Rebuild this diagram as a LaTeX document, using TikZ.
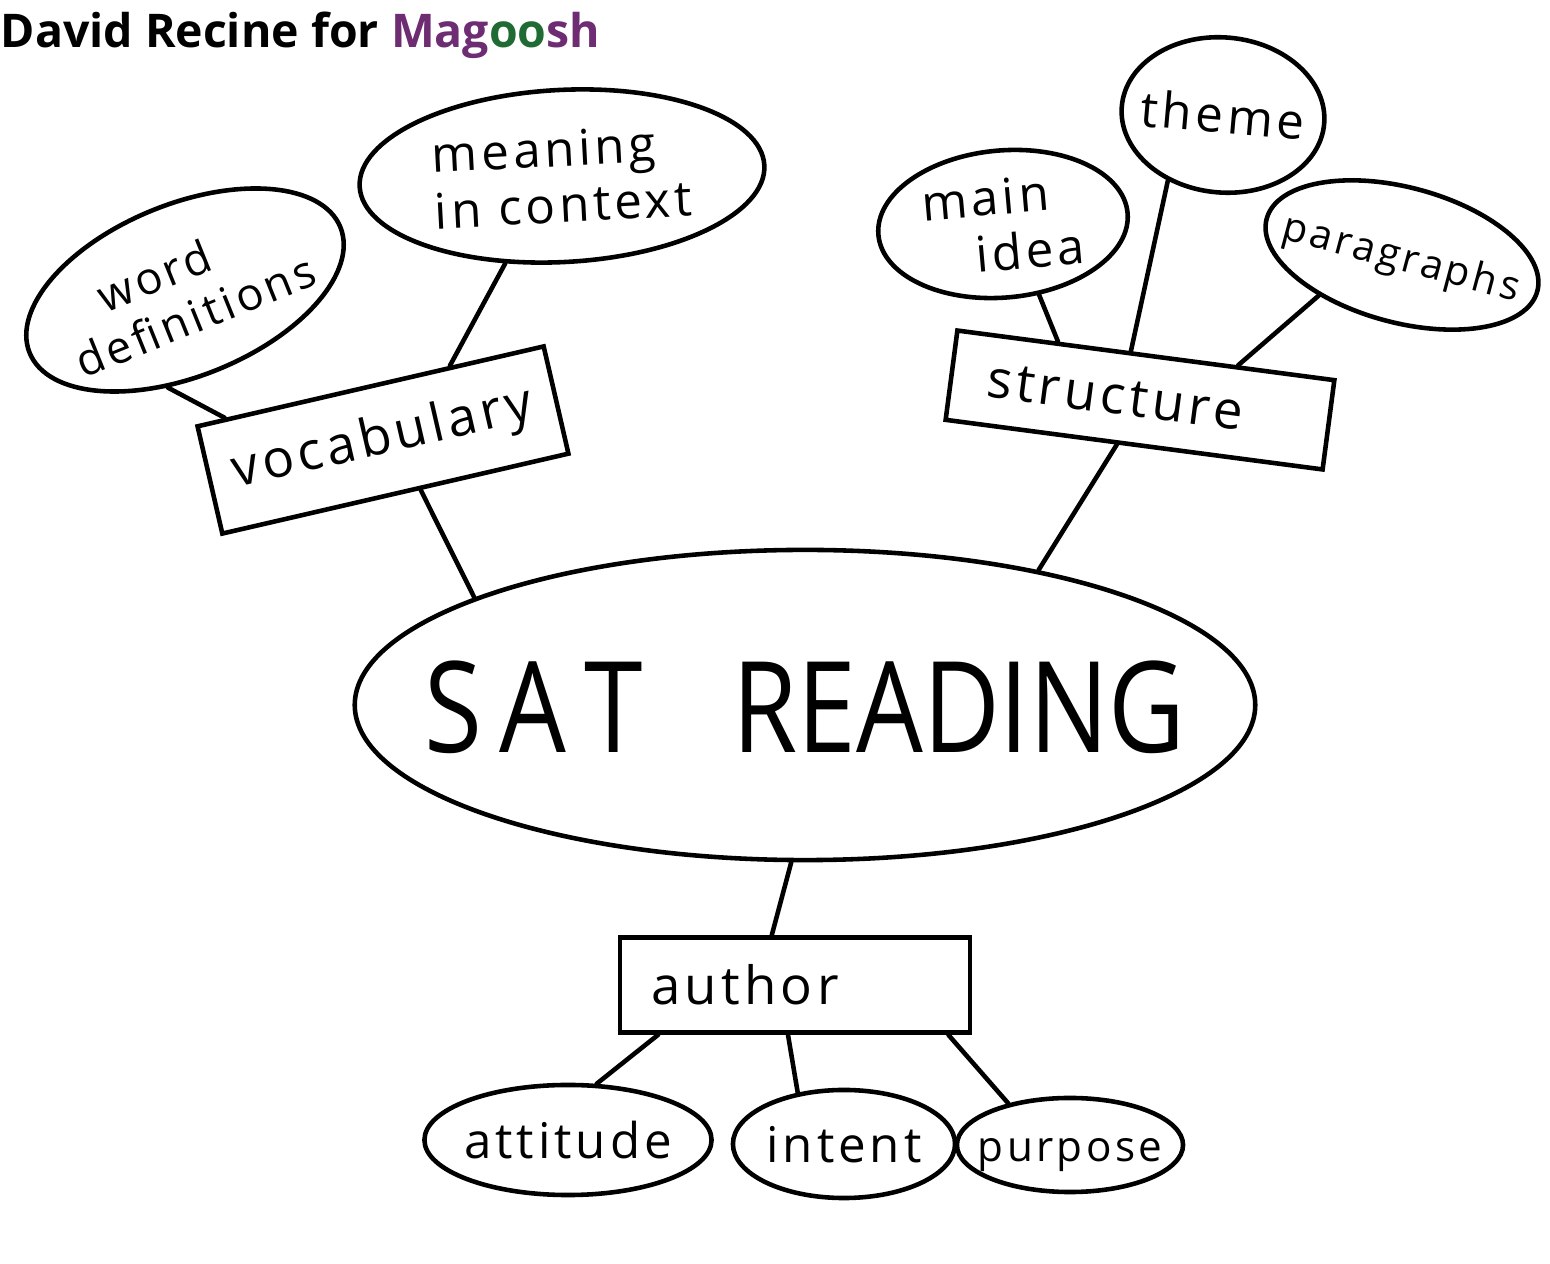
\documentclass[tikz,border=0pt]{standalone}
\usepackage{fontspec}
\setmainfont{Open Sans}
\newfontfamily\handfont{Open Sans}[LetterSpace=8.0]
\usetikzlibrary{shapes.geometric}
\definecolor{magpurple}{HTML}{6E2C73}
\definecolor{maggreen}{HTML}{1F6B33}

\newcommand\blabel[1]{\smash{\makebox[0pt]{\raisebox{-0.4em}{\begin{tabular}{@{}l@{}}#1\end{tabular}}}}}

\tikzset{
  bubble/.style={draw, ellipse, line width=1.3pt, inner sep=0pt,
    font=\handfont\fontsize{14}{16}\selectfont},
  topicbox/.style={draw, rectangle, line width=1.3pt, inner sep=0pt,
    font=\handfont\fontsize{15}{18}\selectfont},
  link/.style={line width=1.3pt, line cap=round}
}

\begin{document}
\begin{tikzpicture}[x=0.01cm,y=-0.01cm]
\useasboundingbox (0,0) rectangle (1550,1264);

\node[anchor=west, inner sep=0pt, font=\bfseries\fontsize{13.2}{16}\selectfont] (title) at (0,35)
  {David Recine for \textcolor{magpurple}{Mag\textcolor{maggreen}{oo}sh}};

\node[draw, ellipse, line width=1.3pt, inner sep=0pt, minimum width=9cm, minimum height=3.1cm,
  font=\fontsize{30}{36}\selectfont] (sat) at (805,705)
  {\blabel{\scalebox{1}[1.2]{S\,A\,T\hspace{0.9cm}READING}}};

\node[topicbox, minimum width=3.55cm, minimum height=1.1cm, rotate=13] (vocab) at (383,440) {vocabulary};
\node[topicbox, minimum width=3.8cm, minimum height=0.9cm, rotate=-7.5] (structure) at (1140,400) {structure\hspace*{0.5cm}};
\node[topicbox, minimum width=3.5cm, minimum height=0.95cm] (author) at (795,985) {author\hspace*{1cm}};

\node[bubble, minimum width=3.35cm, minimum height=1.72cm, rotate=22, font=\handfont\fontsize{12.8}{15}\selectfont] (worddef) at (185,290) {\blabel{\quad word\\definitions}};
\node[bubble, minimum width=4.05cm, minimum height=1.72cm, rotate=3] (meaning) at (562,176) {\blabel{meaning\\in context}};
\node[bubble, minimum width=2.5cm, minimum height=1.47cm, rotate=5] (mainidea) at (1003,224) {\blabel{main\\\quad idea}};
\node[bubble, minimum width=2.03cm, minimum height=1.55cm, rotate=-5] (theme) at (1223,115) {\blabel{theme}};
\node[bubble, minimum width=2.8cm, minimum height=1.35cm, rotate=-15, font=\handfont\fontsize{11.5}{14}\selectfont] (paragraphs) at (1402,255) {\blabel{paragraphs}};
\node[bubble, minimum width=2.87cm, minimum height=1.1cm] (attitude) at (568,1140) {\blabel{attitude}};
\node[bubble, minimum width=2.22cm, minimum height=1.08cm] (intent) at (844,1144) {\blabel{intent}};
\node[bubble, minimum width=2.26cm, minimum height=0.94cm, font=\handfont\fontsize{12}{15}\selectfont] (purpose) at (1070,1145) {\blabel{purpose}};

\draw[link] (sat.162) -- (vocab.-66);
\draw[link] (sat.30) -- (structure.-110);
\draw[link] (sat.-95) -- (author.115);

\draw[link] (vocab.159) -- (worddef.-122);
\draw[link] (vocab.35) -- (meaning.-126);

\draw[link] (structure.152) -- (mainidea.-68);
\draw[link] (structure.108) -- (theme.-125);
\draw[link] (structure.27) -- (paragraphs.-139);

\draw[link] (author.-160) -- (attitude.63);
\draw[link] (author.-98) -- (intent.132);
\draw[link] (author.-18) -- (purpose.146);
\end{tikzpicture}
\end{document}
